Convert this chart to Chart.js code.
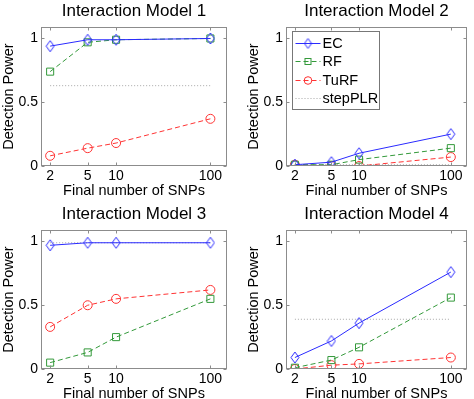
<!DOCTYPE html>
<html>
<head>
<meta charset="utf-8">
<script src="https://cdn.jsdelivr.net/npm/chart.js@4.4.1/dist/chart.umd.min.js"></script>
<style>
body { margin: 0; background: #fff; width: 474px; height: 399px; overflow: hidden; position: relative; }
canvas { position: absolute; }
</style>
</head>
<body>
<canvas id="c1" width="237" height="200" style="left:0;top:0"></canvas>
<canvas id="c2" width="237" height="200" style="left:237px;top:0"></canvas>
<canvas id="c3" width="237" height="200" style="left:0;top:203px"></canvas>
<canvas id="c4" width="237" height="200" style="left:237px;top:203px"></canvas>
<script>
// Datos
const snps = [2, 5, 10, 100];
const xTicks = [2, 5, 10, 100];
const yTicks = [0, 0.5, 1];
const titles = ['Interaction Model 1', 'Interaction Model 2', 'Interaction Model 3', 'Interaction Model 4'];
const methods = ['EC', 'RF', 'TuRF', 'stepPLR'];

const ec1 = [0.94, 0.99, 0.99, 1.00];
const rf1 = [0.74, 0.97, 0.99, 1.00];
const turf1 = [0.08, 0.14, 0.18, 0.37];
const step1 = [0.63, 0.63, 0.63, 0.63];

const ec2 = [0.01, 0.03, 0.10, 0.25];
const rf2 = [0.01, 0.01, 0.05, 0.14];
const turf2 = [0.01, 0.00, 0.00, 0.07];
const step2 = [0.01, 0.01, 0.01, 0.01];

const ec3 = [0.97, 0.99, 0.99, 0.99];
const rf3 = [0.05, 0.13, 0.25, 0.55];
const turf3 = [0.33, 0.50, 0.55, 0.62];
const step3 = [0.99, 0.99, 0.99, 0.99];

const ec4 = [0.09, 0.22, 0.36, 0.76];
const rf4 = [0.01, 0.07, 0.17, 0.56];
const turf4 = [0.00, 0.03, 0.04, 0.09];
const step4 = [0.39, 0.39, 0.39, 0.39];

const FONT = "'Liberation Sans', Arial, Helvetica, sans-serif";
const colors = { EC: '#2a2aff', RF: '#33993a', TuRF: '#ff3333', stepPLR: '#a8a8a8' };

// Rombo alto tipo MATLAB
function makeDiamond(color, w, h) {
    const c = document.createElement('canvas');
    c.width = w + 2; c.height = h + 2;
    const g = c.getContext('2d');
    g.strokeStyle = color; g.lineWidth = 1;
    g.beginPath();
    g.moveTo(1 + w / 2, 1);
    g.lineTo(1 + w, 1 + h / 2);
    g.lineTo(1 + w / 2, 1 + h);
    g.lineTo(1, 1 + h / 2);
    g.closePath();
    g.stroke();
    return c;
}
const diamond = makeDiamond(colors.EC, 8, 11);
const diamondSmall = makeDiamond(colors.EC, 7, 10);

function series(label, values) {
    const base = {
        label,
        data: snps.map((x, i) => ({ x, y: values[i] })),
        borderColor: colors[label],
        borderWidth: 1,
        pointBackgroundColor: 'rgba(0,0,0,0)',
        pointBorderColor: colors[label],
        pointBorderWidth: 1,
        tension: 0
    };
    if (label === 'EC') Object.assign(base, { pointStyle: diamond, pointRadius: 6 });
    if (label === 'RF') Object.assign(base, { borderDash: [5, 3], pointStyle: 'rect', pointRadius: 5 });
    if (label === 'TuRF') Object.assign(base, { borderDash: [5, 3], pointStyle: 'circle', pointRadius: 4.5 });
    if (label === 'stepPLR') Object.assign(base, { borderDash: [1, 2], borderColor: colors.stepPLR, pointRadius: 0 });
    return base;
}

// Título centrado sobre el área del gráfico
const centerTitlePlugin = {
    id: 'centerTitle',
    afterLayout(chart) {
        if (chart.titleBlock) {
            chart.titleBlock.left = chart.chartArea.left;
            chart.titleBlock.right = chart.chartArea.right;
        }
    }
};

// Marco con marcas hacia dentro
const framePlugin = {
    id: 'frame',
    afterDraw(chart) {
        const { ctx, chartArea: a, scales } = chart;
        ctx.save();
        ctx.strokeStyle = '#8c8c8c';
        ctx.lineWidth = 1;
        const l = Math.round(a.left) + 0.5, r = Math.round(a.right) - 0.5;
        const t = Math.round(a.top) + 0.5, b = Math.round(a.bottom) - 0.5;
        ctx.strokeRect(l, t, r - l, b - t);
        ctx.beginPath();
        xTicks.forEach(v => {
            const px = Math.round(scales.x.getPixelForValue(v)) + 0.5;
            ctx.moveTo(px, t); ctx.lineTo(px, t + 3);
            ctx.moveTo(px, b); ctx.lineTo(px, b - 3);
        });
        yTicks.forEach(v => {
            const py = Math.round(scales.y.getPixelForValue(v)) + 0.5;
            ctx.moveTo(l, py); ctx.lineTo(l + 3, py);
            ctx.moveTo(r, py); ctx.lineTo(r - 3, py);
        });
        ctx.stroke();
        ctx.restore();
    }
};

// Leyenda con caja dentro del área del gráfico
const boxLegendPlugin = {
    id: 'boxLegend',
    afterDraw(chart, args, opts) {
        if (!opts.show) return;
        const { ctx, chartArea: a } = chart;
        const x0 = Math.round(a.left) + 6.5, y0 = Math.round(a.top) + 4.5;
        const w = 87, h = 78, row = 18.3;
        ctx.save();
        ctx.fillStyle = '#fff';
        ctx.fillRect(x0, y0, w, h);
        ctx.strokeStyle = '#777';
        ctx.lineWidth = 1;
        ctx.strokeRect(x0, y0, w, h);
        ctx.font = '14.5px ' + FONT;
        ctx.textBaseline = 'middle';
        ctx.fillStyle = '#000';
        chart.data.datasets.forEach((ds, i) => {
            const y = Math.round(y0 + 11.5 + i * row) + 0.5;
            const lx0 = x0 + 3, lx1 = x0 + 28, mx = x0 + 15.5;
            ctx.strokeStyle = ds.borderColor;
            ctx.setLineDash(ds.borderDash || []);
            ctx.beginPath(); ctx.moveTo(lx0, y); ctx.lineTo(lx1, y); ctx.stroke();
            ctx.setLineDash([]);
            if (ds.label === 'EC') ctx.drawImage(diamondSmall, mx - 4.5, y - 6);
            if (ds.label === 'RF') ctx.strokeRect(mx - 3, y - 3, 6, 6);
            if (ds.label === 'TuRF') { ctx.beginPath(); ctx.arc(mx, y, 3.8, 0, Math.PI * 2); ctx.stroke(); }
            ctx.fillText(ds.label, x0 + 30, y);
        });
        ctx.restore();
    }
};

function makeChart(id, title, data, left, right, legend) {
    const tickFont = { family: FONT, size: 14 };
    const titleFont = { family: FONT, size: 14.5 };
    return new Chart(document.getElementById(id), {
        type: 'line',
        data: { datasets: methods.map((m, i) => series(m, data[i])) },
        options: {
            responsive: false,
            animation: false,
            layout: { padding: { left, right, top: 0, bottom: 0 } },
            plugins: {
                legend: { display: false },
                tooltip: { enabled: false },
                title: {
                    display: true, text: title, color: '#000',
                    font: { family: FONT, size: 17, weight: 'normal' },
                    padding: { top: 1, bottom: 5.6 }
                },
                boxLegend: { show: legend }
            },
            scales: {
                x: {
                    type: 'logarithmic', min: 1.6, max: 150,
                    afterBuildTicks: s => { s.ticks = xTicks.map(v => ({ value: v })); },
                    afterFit: s => { s.height = 34; },
                    ticks: { callback: v => String(v), autoSkip: false, maxRotation: 0, padding: 2, color: '#000', font: tickFont },
                    grid: { display: false, drawTicks: false },
                    border: { display: false },
                    title: { display: true, text: 'Final number of SNPs', color: '#000', font: titleFont, padding: 0 }
                },
                y: {
                    min: 0, max: 1.09,
                    afterBuildTicks: s => { s.ticks = yTicks.map(v => ({ value: v })); },
                    afterFit: s => { s.width = 41; },
                    ticks: { callback: v => String(v), padding: 3, color: '#000', font: tickFont },
                    grid: { display: false, drawTicks: false },
                    border: { display: false },
                    title: { display: true, text: 'Detection Power', color: '#000', font: titleFont, padding: 0 }
                }
            }
        },
        plugins: [centerTitlePlugin, framePlugin, boxLegendPlugin]
    });
}

makeChart('c1', titles[0], [ec1, rf1, turf1, step1], 0, 10, false);
makeChart('c2', titles[1], [ec2, rf2, turf2, step2], 8, 2, true);
makeChart('c3', titles[2], [ec3, rf3, turf3, step3], 0, 10, false);
makeChart('c4', titles[3], [ec4, rf4, turf4, step4], 8, 2, false);
</script>
</body>
</html>
